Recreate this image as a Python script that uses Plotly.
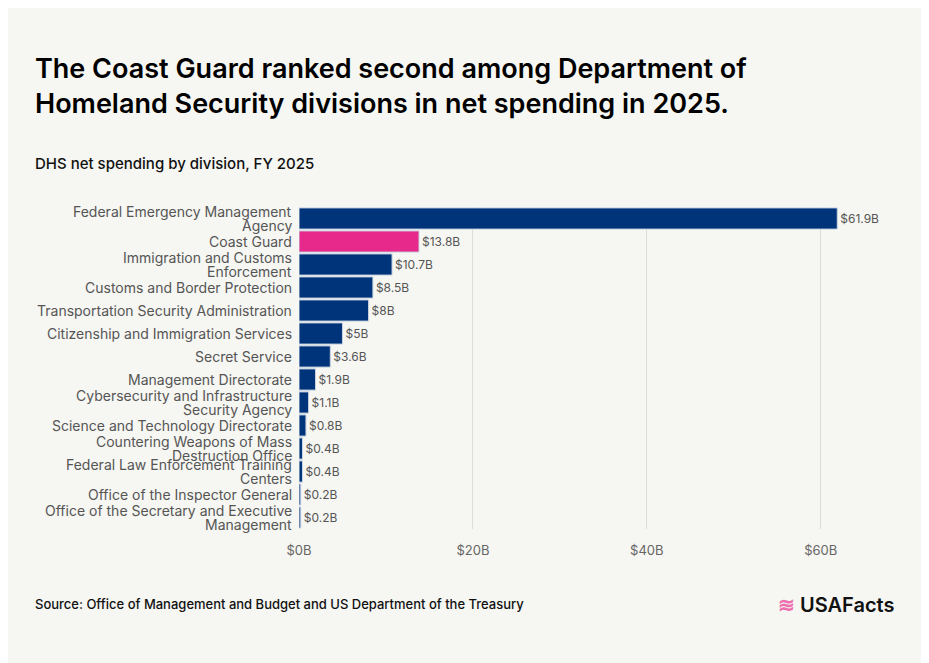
import plotly.graph_objects as go

# DHS net spending by division, FY 2025 (billions of dollars)
divisions = [
    "Federal Emergency Management<br>Agency",
    "Coast Guard",
    "Immigration and Customs<br>Enforcement",
    "Customs and Border Protection",
    "Transportation Security Administration",
    "Citizenship and Immigration Services",
    "Secret Service",
    "Management Directorate",
    "Cybersecurity and Infrastructure<br>Security Agency",
    "Science and Technology Directorate",
    "Countering Weapons of Mass<br>Destruction Office",
    "Federal Law Enforcement Training<br>Centers",
    "Office of the Inspector General",
    "Office of the Secretary and Executive<br>Management",
]
spending = [61.9, 13.8, 10.7, 8.5, 8.0, 5.0, 3.6, 1.9, 1.1, 0.8, 0.4, 0.4, 0.2, 0.2]
value_labels = ["$61.9B", "$13.8B", "$10.7B", "$8.5B", "$8B", "$5B", "$3.6B",
                "$1.9B", "$1.1B", "$0.8B", "$0.4B", "$0.4B", "$0.2B", "$0.2B"]
highlight = "Coast Guard"

tick_vals = [0, 20, 40, 60]
tick_text = ["$0B", "$20B", "$40B", "$60B"]

NAVY = "#00347a"
PINK = "#e6298b"
BG = "#f6f6f2"
FONT = "Inter, Roboto, sans-serif"

# the page body adds an 8px margin, so the figure is sized/positioned to match
OFF = 8
W, H = 929 - OFF, 663 - OFF
L, R, T, B = 299 - OFF, 50, 207 - OFF, 134

colors = [PINK if d == highlight else NAVY for d in divisions]

fig = go.Figure(
    go.Bar(
        x=spending,
        y=divisions,
        orientation="h",
        marker=dict(color=colors, line=dict(color="#c9d3e2", width=1)),
        text=value_labels,
        textposition="outside",
        textfont=dict(size=12, color="#555555", family=FONT),
        cliponaxis=False,
        width=0.92,
    )
)


def px_x(p):
    # p is a pixel position in the window
    return (p - OFF - L) / (W - L - R)


def px_y(p):
    return (H - B - (p - OFF)) / (H - T - B)


# card behind everything (rounded at the visible bottom-right corner)
x0, x1, y0, y1 = px_x(OFF), px_x(OFF + W), px_y(OFF), px_y(OFF + H)
rx, ry = 12 / (W - L - R), 12 / (H - T - B)
card = (
    f"M {x0} {y0} L {x1} {y0} "
    f"L {x1} {y1 + ry} Q {x1} {y1} {x1 - rx} {y1} "
    f"L {x0} {y1} Z"
)

# category labels drawn line by line so wrapped names keep a tight line height
label_notes = []
for d in divisions:
    lines = d.split("<br>")
    for i, line in enumerate(lines):
        label_notes.append(dict(
            text=line, xref="paper", yref="y", x=px_x(294), y=d,
            xanchor="right", yanchor="middle", showarrow=False,
            yshift=(len(lines) - 1) * 7 - i * 14,
            font=dict(size=14, color="#555555", family=FONT),
        ))

fig.update_layout(
    width=W,
    height=H,
    margin=dict(l=L, r=R, t=T, b=B),
    paper_bgcolor="white",
    plot_bgcolor="rgba(0,0,0,0)",
    font=dict(family=FONT, color="#555555", size=13),
    showlegend=False,
    bargap=0.08,
    shapes=[dict(type="path", path=card, xref="paper", yref="paper",
                 fillcolor=BG, line=dict(width=0), layer="below")],
    xaxis=dict(
        range=[0, 66.7],
        tickvals=tick_vals,
        ticktext=tick_text,
        showgrid=True,
        gridcolor="#dcdcd8",
        gridwidth=1,
        zeroline=False,
        ticks="",
        tickfont=dict(size=13, color="#666666"),
        ticklabelstandoff=12,
    ),
    yaxis=dict(
        range=[len(divisions) - 0.5, -0.5],
        showticklabels=False,
        ticks="",
        showgrid=False,
    ),
    annotations=label_notes + [
        dict(
            text="The Coast Guard ranked second among Department of<br>Homeland Security divisions in net spending in 2025.",
            xref="paper", yref="paper", x=px_x(33), y=px_y(50),
            xanchor="left", yanchor="top", align="left", showarrow=False,
            font=dict(size=27, color="#000000", family=FONT, weight=600),
        ),
        dict(
            text="DHS net spending by division, FY 2025",
            xref="paper", yref="paper", x=px_x(33), y=px_y(163),
            xanchor="left", yanchor="middle", showarrow=False,
            font=dict(size=15, color="#111111", family=FONT, weight=500),
        ),
        dict(
            text="Source: Office of Management and Budget and US Department of the Treasury",
            xref="paper", yref="paper", x=px_x(33), y=px_y(604),
            xanchor="left", yanchor="middle", showarrow=False,
            font=dict(size=13, color="#111111", family=FONT, weight=500),
        ),
        dict(
            text="<span style='color:#ee6fae'>≋</span> USAFacts",
            xref="paper", yref="paper", x=px_x(897), y=px_y(605),
            xanchor="right", yanchor="middle", showarrow=False,
            font=dict(size=20, color="#111111", family=FONT, weight=600),
        ),
    ],
)

fig.write_html("out.html")
